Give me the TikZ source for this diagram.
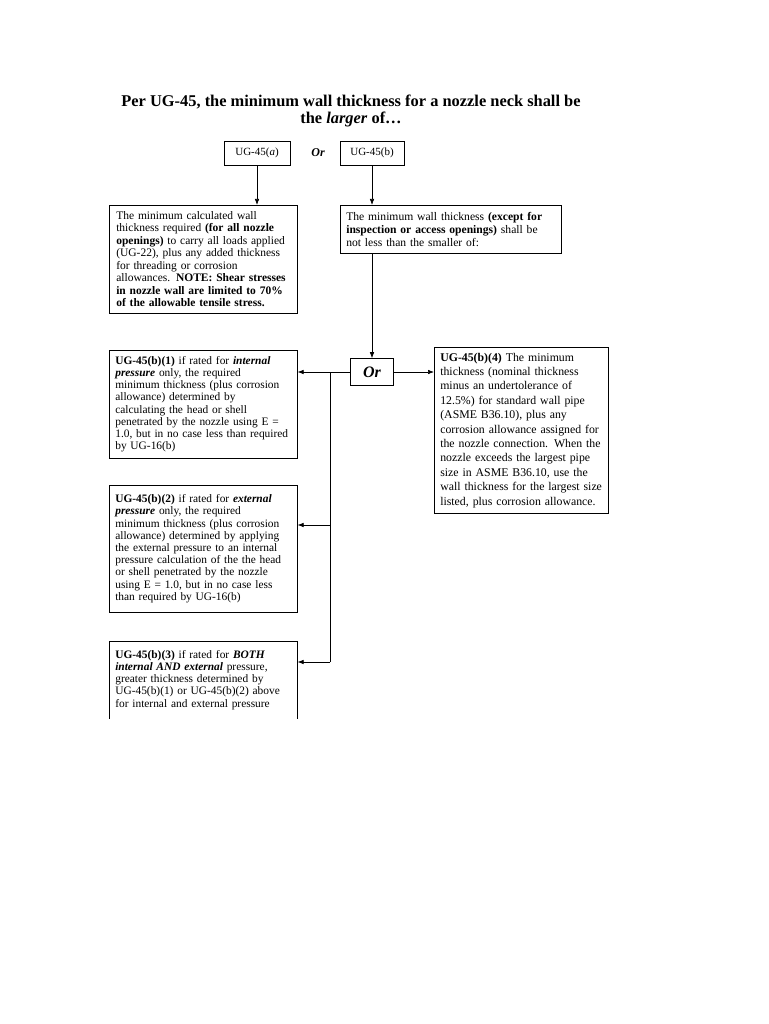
\documentclass[tikz,border=0pt]{standalone}
\usepackage{fontspec}
\setmainfont{Liberation Serif}
\usetikzlibrary{arrows.meta}

\begin{document}
\begin{tikzpicture}[x=1pt, y=-1pt, line width=0.6pt,
  box/.style={rectangle, anchor=north west, align=left, inner xsep=6pt, inner ysep=3pt, font=\fontsize{11.4}{12.2}\selectfont},
  frame/.style={box, draw},
  tag/.style={frame, anchor=center, align=center, font=\fontsize{11}{13}\selectfont},
  link/.style={-{Latex[length=6pt, width=4.5pt]}}]
% page
\useasboundingbox[fill=white] (0,0) rectangle (768,1024);

% title
\node[align=center, font=\fontsize{16.4}{17.5}\selectfont\bfseries] (title) at (351,111)
  {Per UG-45, the minimum wall thickness for a nozzle neck shall be\\the \textit{larger} of\ldots};

% top choice
\node[tag, minimum width=66pt, minimum height=24pt] (ua) at (257,153) {UG-45(\textit{a})};
\node[font=\fontsize{12}{14}\selectfont\bfseries\itshape] (or1) at (318,153) {Or};
\node[tag, minimum width=64pt, minimum height=24pt] (ub) at (372,153) {UG-45(b)};

% boxes
\node[frame, text width=174pt, inner xsep=7pt, minimum height=108pt, font=\fontsize{11.5}{12.5}\selectfont] (pa) at (109,205)
  {The minimum calculated wall\\
   thickness required \textbf{(for all nozzle}\\
   \textbf{openings)} to carry all loads applied\\
   (UG-22), plus any added thickness\\
   for threading or corrosion\\
   allowances. \textbf{NOTE: Shear stresses}\\
   \textbf{in nozzle wall are limited to 70\%}\\
   \textbf{of the allowable tensile stress.}};
\node[frame, text width=209pt, minimum height=48pt, font=\fontsize{11.6}{13}\selectfont] (pb) at (340,205)
  {The minimum wall thickness \textbf{(except for}\\
   \textbf{inspection or access openings)} shall be\\
   not less than the smaller of:};
\node[tag, minimum width=43pt, minimum height=27pt, font=\fontsize{16}{18}\selectfont\bfseries\itshape] (or2) at (372,372) {Or};

\node[frame, text width=176pt, minimum height=108pt] (b1) at (109,350)
  {\textbf{UG-45(b)(1)} if rated for \textbf{\textit{internal}}\\
   \textbf{\textit{pressure}} only, the required\\
   minimum thickness (plus corrosion\\
   allowance) determined by\\
   calculating the head or shell\\
   penetrated by the nozzle using E =\\
   1.0, but in no case less than required\\
   by UG-16(b)};
\node[frame, text width=162pt, minimum height=166pt, font=\fontsize{11.8}{14.4}\selectfont] (b4) at (434,347)
  {\textbf{UG-45(b)(4)} The minimum\\
   thickness (nominal thickness\\
   minus an undertolerance of\\
   12.5\%) for standard wall pipe\\
   (ASME B36.10), plus any\\
   corrosion allowance assigned for\\
   the nozzle connection. When the\\
   nozzle exceeds the largest pipe\\
   size in ASME B36.10, use the\\
   wall thickness for the largest size\\
   listed, plus corrosion allowance.};
\node[frame, text width=176pt, minimum height=127pt] (b2) at (109,485)
  {\textbf{UG-45(b)(2)} if rated for \textbf{\textit{external}}\\
   \textbf{\textit{pressure}} only, the required\\
   minimum thickness (plus corrosion\\
   allowance) determined by applying\\
   the external pressure to an internal\\
   pressure calculation of the the head\\
   or shell penetrated by the nozzle\\
   using E = 1.0, but in no case less\\
   than required by UG-16(b)};
\node[box, text width=176pt, minimum height=77pt] (b3) at (109,641)
  {\textbf{UG-45(b)(3)} if rated for \textbf{\textit{BOTH}}\\
   \textbf{\textit{internal AND external}} pressure,\\
   greater thickness determined by\\
   UG-45(b)(1) or UG-45(b)(2) above\\
   for internal and external pressure};
% cut off at the bottom
\draw (b3.south west) -- (b3.north west) -- (b3.north east) -- (b3.south east);

% connectors
\coordinate (j1) at (330,372);
\coordinate (j2) at (330,525);
\coordinate (j3) at (330,662);
\draw[link] (ua) -- (ua |- pa.north);
\draw[link] (ub) -- (ub |- pb.north);
\draw[link] (or2 |- pb.south) -- (or2);
\draw[link] (or2) -- (or2 -| b1.east);
\draw[link] (or2) -- (or2 -| b4.west);
\draw (j1) -- (j3);
\draw[link] (j2) -- (j2 -| b2.east);
\draw[link] (j3) -- (j3 -| b3.east);

\end{tikzpicture}
\end{document}
